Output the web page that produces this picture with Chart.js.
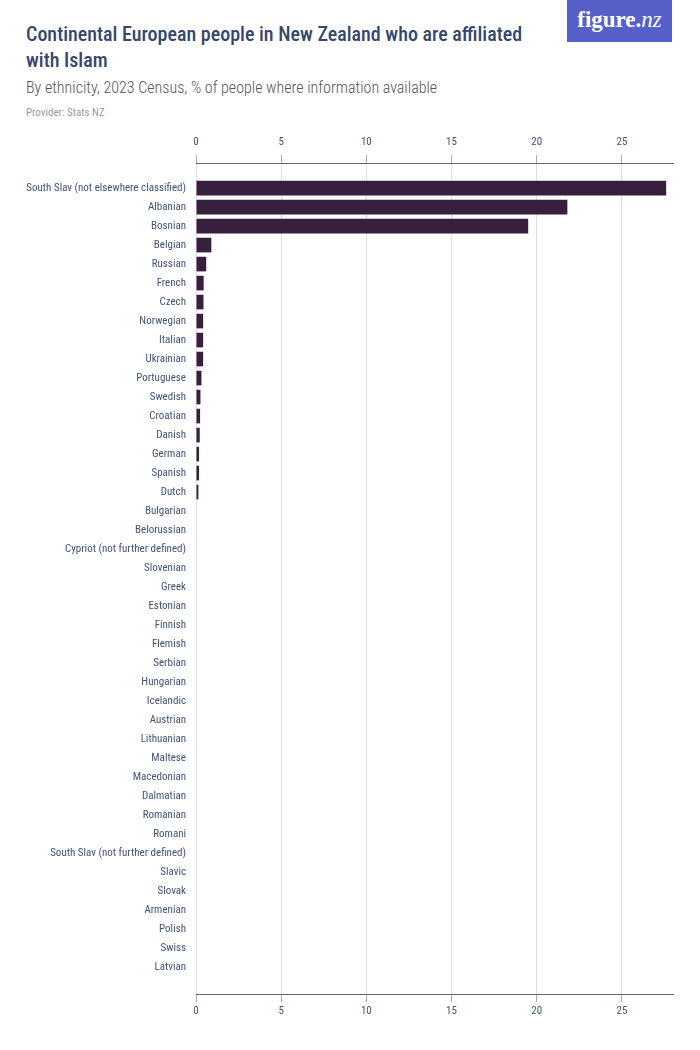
<!DOCTYPE html>
<html>
<head>
<meta charset="utf-8">
<script src="https://cdn.jsdelivr.net/npm/chart.js@4.4.1/dist/chart.umd.min.js"></script>
<style>
  body { margin: 0; width: 700px; height: 1050px; background: #fff; position: relative; overflow: hidden;
         font-family: 'Roboto Condensed', Roboto, sans-serif; }
  #title { position: absolute; left: 26px; top: 21px; width: 520px; font-size: 20px; line-height: 26px;
           color: #37476a; font-weight: 500; }
  #subtitle { position: absolute; left: 26px; top: 78px; font-size: 16px; color: #555; font-weight: 300; }
  #provider { position: absolute; left: 26px; top: 106px; font-size: 11px; color: #9a9a9a; }
  #logo { position: absolute; left: 567px; top: 0; width: 105px; height: 42px; background: #5560c9;
          color: #fff; font-family: 'Liberation Serif', 'DejaVu Serif', serif; font-weight: bold;
          font-size: 23px; line-height: 40px; text-align: center; }
  #logo i { font-weight: normal; }
  #wrap { position: absolute; left: 0; top: 120px; }
</style>
</head>
<body>
<div id="title">Continental European people in New Zealand who are affiliated with Islam</div>
<div id="subtitle">By ethnicity, 2023 Census, % of people where information available</div>
<div id="provider">Provider: Stats NZ</div>
<div id="logo">figure.<i>nz</i></div>
<div id="wrap"><canvas id="chart" width="700" height="930"></canvas></div>
<script>
// ethnic groups, top to bottom
const ethnicities = [
    'South Slav (not elsewhere classified)', 'Albanian', 'Bosnian', 'Belgian', 'Russian', 'French',
    'Czech', 'Norwegian', 'Italian', 'Ukrainian', 'Portuguese', 'Swedish', 'Croatian', 'Danish',
    'German', 'Spanish', 'Dutch', 'Bulgarian', 'Belorussian', 'Cypriot (not further defined)',
    'Slovenian', 'Greek', 'Estonian', 'Finnish', 'Flemish', 'Serbian', 'Hungarian', 'Icelandic',
    'Austrian', 'Lithuanian', 'Maltese', 'Macedonian', 'Dalmatian', 'Romanian', 'Romani',
    'South Slav (not further defined)', 'Slavic', 'Slovak', 'Armenian', 'Polish', 'Swiss', 'Latvian'
];

// % affiliated with Islam
const islamPercent = [
    27.6, 21.8, 19.5, 0.9, 0.6, 0.45,
    0.44, 0.42, 0.42, 0.42, 0.32, 0.26, 0.24, 0.22,
    0.18, 0.18, 0.14, 0, 0, 0,
    0, 0, 0, 0, 0, 0, 0, 0,
    0, 0, 0, 0, 0, 0, 0,
    0, 0, 0, 0, 0, 0, 0
];

const xTicks = [0, 5, 10, 15, 20, 25];

const labelFont = { family: "'Roboto Condensed', Roboto, sans-serif", size: 11 };
const labelColor = '#43527a';

const xAxisCommon = {
    type: 'linear',
    min: 0,
    max: 28,
    ticks: {
        stepSize: 5,
        includeBounds: false,
        color: labelColor,
        font: labelFont,
        callback: function(value) {
            return xTicks.includes(value) ? String(value) : '';
        }
    },
    border: { display: true, color: '#666', width: 1 }
};

new Chart(document.getElementById('chart').getContext('2d'), {
    type: 'bar',
    data: {
        datasets: [{
            data: islamPercent.map((v, i) => ({ x: v, y: i })),
            backgroundColor: '#371f3d',
            borderWidth: 0,
            barPercentage: 0.77,
            categoryPercentage: 1
        }]
    },
    options: {
        indexAxis: 'y',
        responsive: false,
        animation: false,
        layout: { padding: { left: 0, right: 27, top: 13, bottom: 26 } },
        plugins: {
            legend: { display: false },
            tooltip: { enabled: false }
        },
        scales: {
            x: {
                ...xAxisCommon,
                position: 'top',
                ticks: { ...xAxisCommon.ticks, padding: 6 },
                grid: { color: '#dedede', tickColor: '#aaa', tickLength: 8 },
                afterFit: (scale) => { scale.height = 30; }
            },
            x2: {
                ...xAxisCommon,
                position: 'bottom',
                ticks: { ...xAxisCommon.ticks, padding: 3 },
                grid: { drawOnChartArea: false, tickColor: '#aaa', tickLength: 8 },
                afterFit: (scale) => { scale.height = 30; }
            },
            y: {
                type: 'linear',
                reverse: true,
                offset: false,
                min: -1.32,
                max: 42.42,
                grid: { display: false, offset: false },
                border: { display: false },
                ticks: {
                    stepSize: 1,
                    includeBounds: false,
                    autoSkip: false,
                    maxTicksLimit: 100,
                    padding: 2,
                    color: labelColor,
                    font: labelFont,
                    callback: function(value) {
                        return Number.isInteger(value) && ethnicities[value] !== undefined ? ethnicities[value] : '';
                    }
                },
                afterFit: (scale) => { scale.width = 196; }
            }
        }
    }
});
</script>
</body>
</html>
